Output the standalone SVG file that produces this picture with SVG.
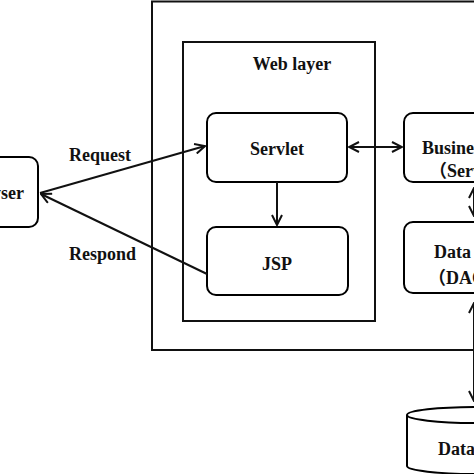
<svg xmlns="http://www.w3.org/2000/svg" width="474" height="474" viewBox="0 0 474 474">
<style>
.box{fill:#fff;stroke:#000;stroke-width:2}
.frame{fill:none;stroke:#111;stroke-width:2}
.t{font-family:"Liberation Serif","Noto Sans CJK SC",serif;font-weight:bold;font-size:18px;fill:#111}
.c{stroke:#111;stroke-width:2;fill:none}
</style>
<defs>
<marker id="ah" viewBox="0 0 12 12" refX="11" refY="6" markerWidth="12" markerHeight="12" markerUnits="userSpaceOnUse" orient="auto-start-reverse">
<path d="M1,1 L11,6 L1,11" fill="none" stroke="#111" stroke-width="2"/>
</marker>
</defs>
<rect width="474" height="474" fill="#fff"/>
<g id="app-server"><rect class="frame" x="152" y="1.5" width="340" height="348.5" stroke-width="2.5"/></g>
<g id="web-layer"><rect class="frame" x="183" y="42" width="192" height="279"/><text class="t" x="292" y="70" text-anchor="middle">Web layer</text></g>
<g id="browser"><rect class="box" x="-40" y="157" width="78" height="70" rx="9"/><text class="t" x="24" y="199" text-anchor="end">Browser</text></g>
<g id="servlet"><rect class="box" x="207" y="113" width="140" height="69" rx="9"/><text class="t" x="277" y="155" text-anchor="middle">Servlet</text></g>
<g id="jsp"><rect class="box" x="207" y="227" width="141" height="68" rx="9"/><text class="t" x="277" y="270" text-anchor="middle">JSP</text></g>
<g id="business"><rect class="box" x="404" y="113" width="140" height="69" rx="9"/><text class="t" x="422" y="154">Business layer</text><text class="t" x="429" y="177">（Service）</text></g>
<g id="data"><rect class="box" x="404" y="222" width="140" height="71" rx="9"/><text class="t" x="434" y="258">Data layer</text><text class="t" x="428" y="284">（DAO）</text></g>
<g id="database"><path class="box" d="M407,415 L407,466 A70,8 0 0 0 547,466 L547,415"/><ellipse class="box" cx="477" cy="415" rx="70" ry="8"/><text class="t" x="438" y="455">Database</text></g>
<g id="connectors">
<line class="c" x1="40" y1="193" x2="205" y2="146" marker-end="url(#ah)"/>
<line class="c" x1="207" y1="274" x2="41" y2="194" marker-end="url(#ah)"/>
<line class="c" x1="277" y1="182" x2="277" y2="225" marker-end="url(#ah)"/>
<line class="c" x1="349" y1="147" x2="402" y2="147" marker-start="url(#ah)" marker-end="url(#ah)"/>
<line class="c" x1="474" y1="188" x2="474" y2="216" marker-start="url(#ah)" marker-end="url(#ah)"/>
<line class="c" x1="474" y1="303" x2="474" y2="401" marker-start="url(#ah)" marker-end="url(#ah)"/>
</g>
<text class="t" x="69" y="161">Request</text>
<text class="t" x="69" y="260">Respond</text>
</svg>
